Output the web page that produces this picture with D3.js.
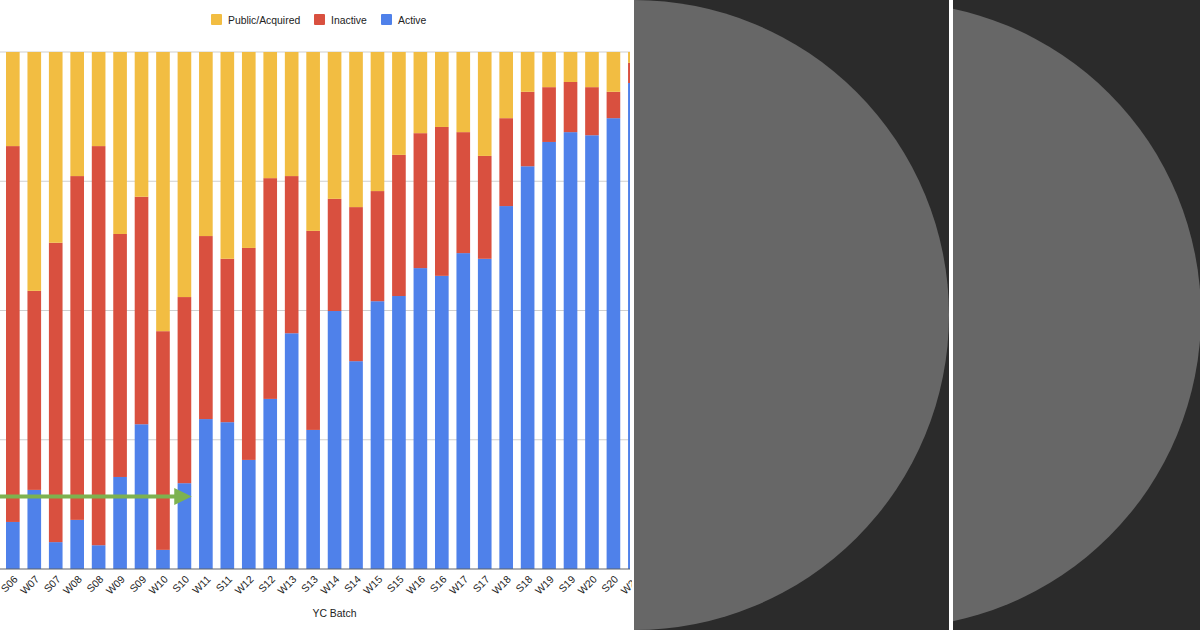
<!DOCTYPE html>
<html>
<head>
<meta charset="utf-8">
<script src="https://cdn.jsdelivr.net/npm/d3@7"></script>
<style>
  html, body { margin: 0; padding: 0; background: #fff; }
  svg { display: block; }
  text { font-family: "Liberation Sans", Arial, sans-serif; fill: #222; }
</style>
</head>
<body>
<div id="vis"></div>
<script>
// values, percent of each batch
const batches = ['S06','W07','S07','W08','S08','W09','S09','W10','S10','W11','S11','W12','S12','W13','S13','W14','S14','W15','S15','W16','S16','W17','S17','W18','S18','W19','S19','W20','S20','W21'];
const active = [9.1,15.3,5.2,9.5,4.6,17.8,28.0,3.7,16.6,29.0,28.4,21.1,32.9,45.6,26.9,49.9,40.2,51.8,52.8,58.2,56.7,61.1,60.0,70.2,77.9,82.6,84.5,83.9,87.2,94.0];
const inactive = [72.7,38.5,57.9,66.5,77.2,47.0,44.0,42.3,36.0,35.4,31.6,41.0,42.7,30.4,38.5,21.7,29.8,21.3,27.3,26.1,28.8,23.4,19.9,17.0,14.4,10.6,9.7,9.3,5.1,3.9];
const publicAcquired = [18.2,46.2,36.9,24.0,18.2,35.2,28.0,54.0,47.4,35.6,40.0,37.9,24.4,24.0,34.6,28.4,30.0,26.9,19.9,15.7,14.5,15.5,20.1,12.8,7.7,6.8,5.8,6.8,7.7,2.1];
const yTicks = [0, 25, 50, 75, 100];
const legendNames = ['Public/Acquired', 'Inactive', 'Active'];
const legendX = [211, 314, 381];

const width = 1200, height = 630;
const plot = { left: 0, right: 630, top: 52, bottom: 569 };
const colors = { Active: '#4f81ea', Inactive: '#d9503f', 'Public/Acquired': '#f2bd42' };
const step = 21.45;

const svg = d3.select('#vis')
  .append('svg')
    .attr('width', width)
    .attr('height', height)
    .attr('viewBox', [0, 0, width, height].join(' '));

let defs = svg.append('defs');
defs.append('clipPath')
    .attr('id', 'plot-clip')
  .append('rect')
    .attr('x', 0)
    .attr('y', 0)
    .attr('width', 630)
    .attr('height', height);
defs.append('clipPath')
    .attr('id', 'label-clip')
  .append('rect')
    .attr('x', 0)
    .attr('y', 0)
    .attr('width', 632)
    .attr('height', height);

let x = d3.scaleBand()
  .domain(batches)
  .range([2.1, 2.1 + 30 * step])
  .paddingInner(0.364)
  .paddingOuter(0.182);

let y = d3.scaleLinear()
  .domain([0, 100])
  .range([plot.bottom, plot.top]);

let chart = svg.append('g').attr('clip-path', 'url(#plot-clip)');

// gridlines
chart.append('g')
  .selectAll('line')
  .data(yTicks.slice(1))
  .join('line')
    .attr('x1', plot.left)
    .attr('x2', plot.right)
    .attr('y1', d => y(d))
    .attr('y2', d => y(d))
    .attr('stroke', '#cfcfcf')
    .attr('stroke-width', 1);

// stacked bars
let table = batches.map((b, i) => ({
  batch: b,
  Active: active[i],
  Inactive: inactive[i],
  'Public/Acquired': publicAcquired[i]
}));

let series = d3.stack().keys(['Active', 'Inactive', 'Public/Acquired'])(table);

chart.append('g')
  .selectAll('g')
  .data(series)
  .join('g')
    .attr('fill', d => colors[d.key])
  .selectAll('rect')
  .data(d => d)
  .join('rect')
    .attr('x', d => x(d.data.batch))
    .attr('width', x.bandwidth())
    .attr('y', d => y(Math.min(d[1], 100)))
    .attr('height', d => y(d[0]) - y(Math.min(d[1], 100)));

// baseline
chart.append('line')
    .attr('x1', plot.left)
    .attr('x2', plot.right)
    .attr('y1', y(0))
    .attr('y2', y(0))
    .attr('stroke', '#5f6368')
    .attr('stroke-width', 1);

// batch labels, rotated. the last one is cut by the crop like in the picture
svg.append('g')
    .attr('clip-path', 'url(#label-clip)')
  .selectAll('text')
  .data(batches)
  .join('text')
    .attr('text-anchor', 'end')
    .attr('font-size', 10.4)
    .attr('transform', d => `translate(${x(d) + x.bandwidth() / 2 + 5.5},${y(0) + 11}) rotate(-45)`)
    .text(d => d);

svg.append('text')
    .attr('x', 334.5)
    .attr('y', 617)
    .attr('text-anchor', 'middle')
    .attr('font-size', 10.4)
    .text('YC Batch');

// legend
let legend = svg.append('g')
  .selectAll('g')
  .data(legendNames)
  .join('g')
    .attr('transform', (d, i) => `translate(${legendX[i]},14)`);

legend.append('rect')
    .attr('width', 11)
    .attr('height', 11)
    .attr('rx', 1)
    .attr('fill', d => colors[d]);

legend.append('text')
    .attr('x', 17)
    .attr('y', 9.5)
    .attr('font-size', 10.4)
    .text(d => d);

// green arrow, runs up to the S10 bar
let arrowY = y(14);
let arrowEnd = x('S10') + x.bandwidth() + 0.5;
svg.append('line')
    .attr('x1', 0)
    .attr('x2', arrowEnd - 14)
    .attr('y1', arrowY)
    .attr('y2', arrowY)
    .attr('stroke', '#7db24f')
    .attr('stroke-width', 4);
svg.append('path')
    .attr('d', d3.line()([[arrowEnd - 17.5, arrowY - 8.5], [arrowEnd, arrowY], [arrowEnd - 17.5, arrowY + 8.5]]) + 'Z')
    .attr('fill', '#7db24f');

// dark panels with the grey half discs
svg.append('rect')
    .attr('x', 634)
    .attr('y', 0)
    .attr('width', 566)
    .attr('height', height)
    .attr('fill', '#2b2b2b');

defs.append('clipPath').attr('id', 'left-panel').append('rect')
    .attr('x', 634).attr('y', 0).attr('width', 315).attr('height', height);
defs.append('clipPath').attr('id', 'right-panel').append('rect')
    .attr('x', 953).attr('y', 0).attr('width', 247).attr('height', height);

svg.append('circle')
    .attr('cx', 634)
    .attr('cy', 315)
    .attr('r', 315)
    .attr('fill', '#676767')
    .attr('clip-path', 'url(#left-panel)');

svg.append('circle')
    .attr('cx', 888)
    .attr('cy', 315)
    .attr('r', 313)
    .attr('fill', '#676767')
    .attr('clip-path', 'url(#right-panel)');

svg.append('rect')
    .attr('x', 949)
    .attr('y', 0)
    .attr('width', 4)
    .attr('height', height)
    .attr('fill', '#fff');
</script>
</body>
</html>
